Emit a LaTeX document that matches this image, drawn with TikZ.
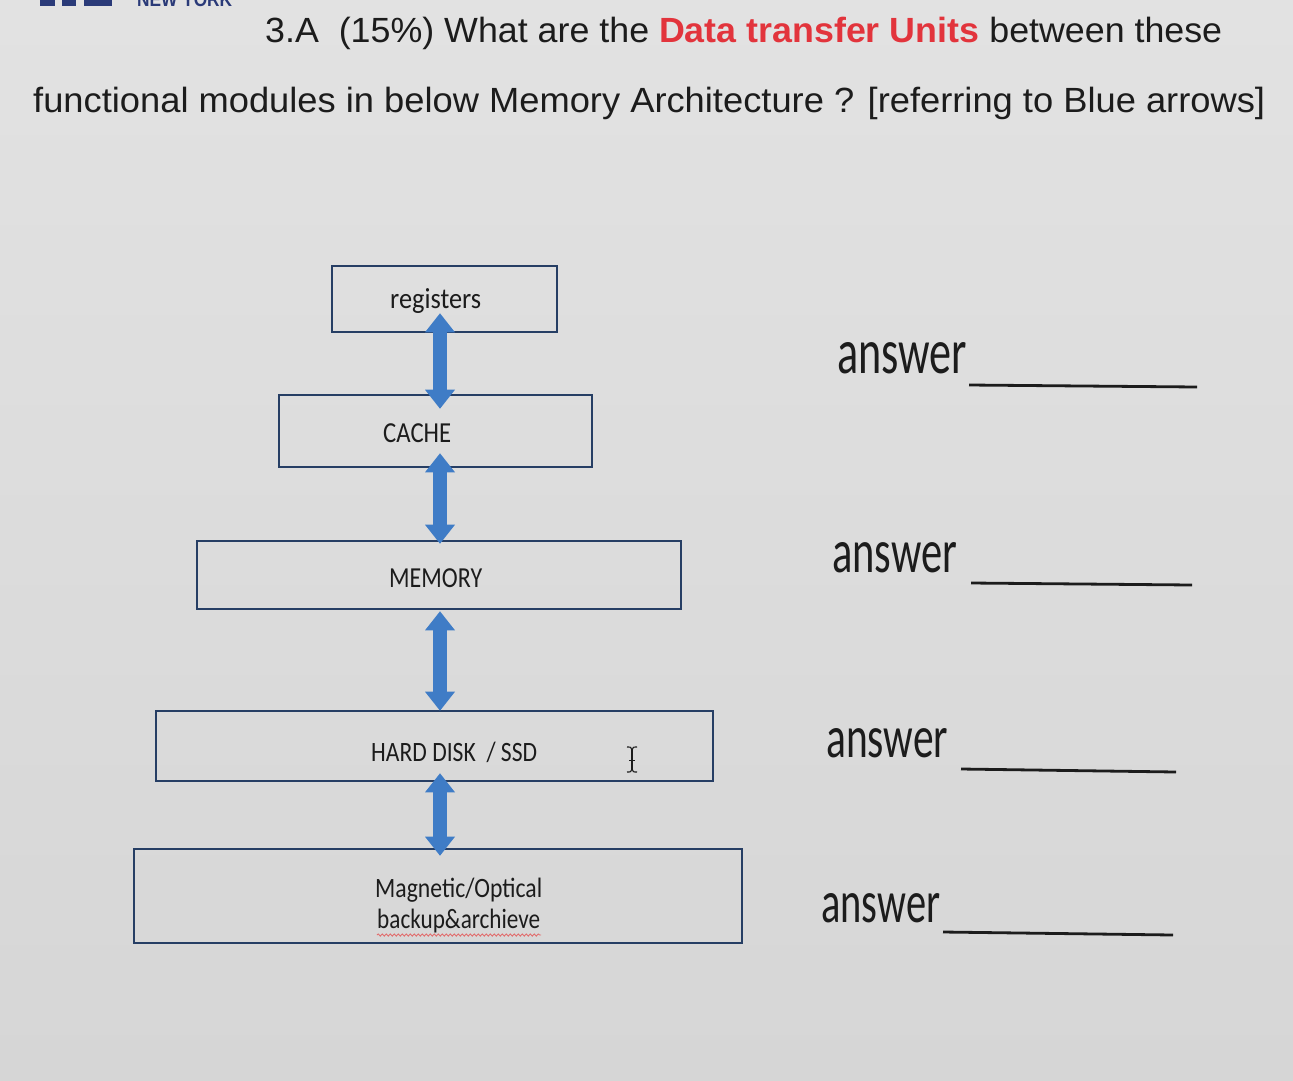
\documentclass[tikz,border=0pt]{standalone}
\usepackage{fontspec}
\setmainfont{Liberation Sans}
\newfontfamily\calfont{Carlito}
\usetikzlibrary{arrows.meta,calc,decorations.pathmorphing}
\definecolor{bgtop}{RGB}{226,226,226}
\definecolor{bgbot}{RGB}{214,214,214}
\definecolor{qred}{RGB}{226,52,60}
\definecolor{ink}{RGB}{28,28,28}
\definecolor{boxline}{RGB}{38,62,100}
\definecolor{arrblue}{RGB}{63,124,198}
\definecolor{logoblue}{RGB}{42,58,120}
\definecolor{wavyred}{RGB}{225,110,110}
\begin{document}
\begin{tikzpicture}[x=1pt,y=-1pt,
  box/.style={draw=boxline,line width=2.6pt,inner sep=0pt},
  lbl/.style={anchor=base west,inner sep=0pt,text=ink,font=\calfont\fontsize{29}{29}\selectfont},
  lblsm/.style={lbl,font=\calfont\fontsize{28}{28}\selectfont},
  head/.style={anchor=base west,inner sep=0pt,text=ink,font=\fontsize{35}{35}\selectfont},
  ans/.style={anchor=base west,inner sep=0pt,text=ink,font=\calfont\fontsize{40}{40}\selectfont},
  biarrow/.style={draw=arrblue,line width=14pt,
    {Triangle[width=30pt,length=19pt,line width=0pt]}-{Triangle[width=30pt,length=19pt,line width=0pt]}},
  uline/.style={draw=ink,line width=2.8pt},
  wavy/.style={draw=wavyred,line width=0.9pt,decorate,decoration={snake,amplitude=1.1pt,segment length=4pt}}
]
\useasboundingbox (0,0) rectangle (1293,1080);
\clip (0,0) rectangle (1293,1080);
\fill[top color=bgtop,bottom color=bgbot] (0,0) rectangle (1293,1080);

% partially visible logo at the top edge
\fill[logoblue] (40,-5) rectangle (55,6);
\fill[logoblue] (62,-5) rectangle (76,6);
\fill[logoblue] (84,-5) rectangle (112,6);
\node[anchor=base west,inner sep=0pt,text=logoblue,font=\bfseries\fontsize{20}{20}\selectfont] (logo) at (137,6) {\resizebox{95pt}{\height}{NEW YORK}};

% header
\node[head] (h1) at (265,42) {\resizebox{957pt}{\height}{3.A\ \ (15\%) What are the \textcolor{qred}{\bfseries Data transfer Units} between these}};
\node[head] (h2) at (33,112) {\resizebox{1232pt}{\height}{functional modules in below Memory Architecture ? [referring to Blue arrows]}};

% boxes
\node[box,minimum width=225pt,minimum height=66pt] (reg) at (444.5,299) {};
\node[box,minimum width=313pt,minimum height=72pt] (cache) at (435.5,431) {};
\node[box,minimum width=484pt,minimum height=68pt] (mem) at (439,575) {};
\node[box,minimum width=557pt,minimum height=70pt] (hdd) at (434.5,746) {};
\node[box,minimum width=608pt,minimum height=94pt] (mag) at (438,896) {};

% labels
\node[lbl] (regt) at (390,308) {\resizebox{91pt}{\height}{registers}};
\node[lbl] (cachet) at (383,442) {\resizebox{68pt}{\height}{CACHE}};
\node[lbl] (memt) at (389,587) {\resizebox{93pt}{\height}{MEMORY}};
\node[lblsm] (hddt) at (371,761) {\resizebox{166pt}{\height}{HARD DISK\ \ / SSD}};
\node[lblsm] (magt) at (375,897) {\resizebox{167pt}{\height}{Magnetic/Optical}};
\node[lblsm] (bakt) at (377,928) {\resizebox{163pt}{\height}{backup\&archieve}};
\coordinate (w1) at (377,935);
\coordinate (w2) at (541,935);
\draw[wavy] (w1) -- (w2);

% blue double arrows
\coordinate (ax) at (440,0);
\draw[biarrow] ($(reg.south -| ax)+(0,-20)$) -- ($(cache.north -| ax)+(0,15)$);
\draw[biarrow] ($(cache.south -| ax)+(0,-15)$) -- ($(mem.north -| ax)+(0,4)$);
\draw[biarrow] ($(mem.south -| ax)+(0,1)$) -- ($(hdd.north -| ax)+(0,1)$);
\draw[biarrow] ($(hdd.south -| ax)+(0,-9)$) -- ($(mag.north -| ax)+(0,8)$);

% text cursor (I-beam)
\coordinate (cur) at (632,760);
\draw[ink,line width=1.4pt] ($(cur)+(0,-11)$) -- ($(cur)+(0,10)$);
\draw[ink,line width=1.1pt] ($(cur)+(-5,-13)$) .. controls ($(cur)+(-1,-13)$) .. ($(cur)+(0,-10)$) .. controls ($(cur)+(1,-13)$) .. ($(cur)+(5,-13)$);
\draw[ink,line width=1.1pt] ($(cur)+(-5,12)$) .. controls ($(cur)+(-1,12)$) .. ($(cur)+(0,9)$) .. controls ($(cur)+(1,12)$) .. ($(cur)+(5,12)$);
\draw[ink,line width=1pt] ($(cur)+(-3,0)$) -- ($(cur)+(3,0)$);

% answers
\node[ans] (a1) at (837,373) {\resizebox{130pt}{31pt}{answer}};
\node[ans] (a2) at (832,572) {\resizebox{125pt}{30pt}{answer}};
\node[ans] (a3) at (826,757) {\resizebox{122pt}{29pt}{answer}};
\node[ans] (a4) at (821,922) {\resizebox{119pt}{29pt}{answer}};
\coordinate (u1a) at (969,385); \coordinate (u1b) at (1197,387);
\coordinate (u2a) at (971,583); \coordinate (u2b) at (1192,585);
\coordinate (u3a) at (961,769); \coordinate (u3b) at (1176,772);
\coordinate (u4a) at (943,932); \coordinate (u4b) at (1173,935);
\draw[uline] (u1a) -- (u1b);
\draw[uline] (u2a) -- (u2b);
\draw[uline] (u3a) -- (u3b);
\draw[uline] (u4a) -- (u4b);
\end{tikzpicture}
\end{document}
